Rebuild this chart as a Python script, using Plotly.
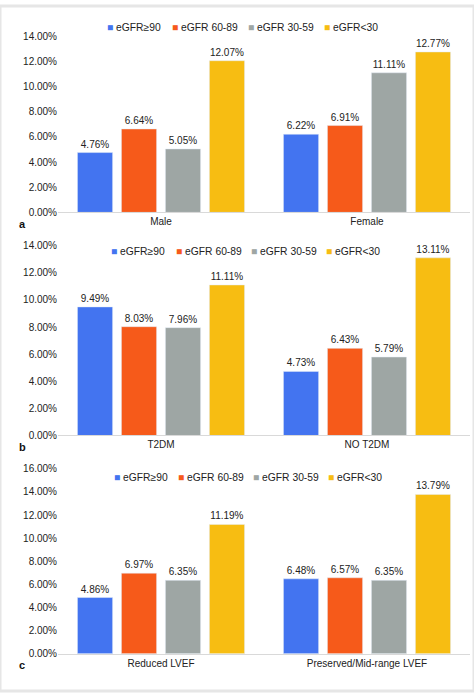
import plotly.graph_objects as go

series = ["eGFR≥90", "eGFR 60-89", "eGFR 30-59", "eGFR<30"]
colors = ["#4374f0", "#f65a1a", "#9ea6a4", "#f7bd12"]

cats_a = ["Male", "Female"]
vals_a = [[4.76, 6.22], [6.64, 6.91], [5.05, 11.11], [12.07, 12.77]]

cats_b = ["T2DM", "NO T2DM"]
vals_b = [[9.49, 4.73], [8.03, 6.43], [7.96, 5.79], [11.11, 13.11]]

cats_c = ["Reduced LVEF", "Preserved/Mid-range LVEF"]
vals_c = [[4.86, 6.48], [6.97, 6.57], [6.35, 6.35], [11.19, 13.79]]

W, H = 474, 697

# (categories, values, panel tag, y max, plot top/bottom px, legend y px, legend item x px)
panels = [
    (cats_a, vals_a, "a", 14, 31, 210, 22, [106, 171, 247, 323]),
    (cats_b, vals_b, "b", 14, 244, 437, 250, [110, 175, 250, 325]),
    (cats_c, vals_c, "c", 16, 471, 659, 480, [113, 177, 252, 327]),
]

font = "Liberation Sans, Arial, sans-serif"
fig = go.Figure()
layout = {}

for p, (cats, vals, tag, ymax, top, bot, legy, legx) in enumerate(panels):
    n = "" if p == 0 else str(p + 1)
    for s, name in enumerate(series):
        fig.add_trace(go.Bar(
            x=cats, y=vals[s], name=name,
            marker=dict(color=colors[s]),
            text=[f"{v:.2f}%" for v in vals[s]],
            textposition="outside", cliponaxis=False,
            textfont=dict(size=10, color="#222"),
            xaxis="x" + n, yaxis="y" + n, showlegend=False,
        ))
        # legend entry drawn as text
        fig.add_annotation(
            text=f'<span style="color:{colors[s]}">■</span> {name}',
            xref="paper", yref="paper", x=(legx[s] - 1) / W, y=1 - legy / H,
            xanchor="left", yanchor="middle", showarrow=False,
            font=dict(size=10.3, color="#222"),
        )
    layout["xaxis" + n] = dict(
        domain=[58 / W, 470 / W], anchor="y" + n,
        showline=True, linecolor="#d9d9d9", linewidth=1,
        ticks="", tickfont=dict(size=10, color="#222"),
    )
    layout["yaxis" + n] = dict(
        domain=[1 - bot / H, 1 - top / H], anchor="x" + n, range=[0, ymax], dtick=2,
        tickformat=".2f", ticksuffix="%", showgrid=False, zeroline=False,
        tickfont=dict(size=10, color="#222"),
    )
    fig.add_annotation(
        text="<b>" + tag + "</b>", xref="paper", yref="paper",
        x=17 / W, y=1 - (bot + 12) / H, xanchor="left", yanchor="middle",
        showarrow=False, font=dict(size=11, color="#111"),
    )

fig.add_shape(type="rect", xref="paper", yref="paper", x0=0, y0=0, x1=1, y1=1,
              line=dict(color="#e6e6e6", width=3))

fig.update_layout(
    width=W, height=H,
    margin=dict(l=0, r=0, t=0, b=0),
    paper_bgcolor="white", plot_bgcolor="white",
    font=dict(family=font, color="#222"),
    barmode="group", bargap=0.146, bargroupgap=0.2,
    **layout,
)

fig.write_html("out.html", config={"displayModeBar": False},
               post_script="document.body.style.margin='0';")
